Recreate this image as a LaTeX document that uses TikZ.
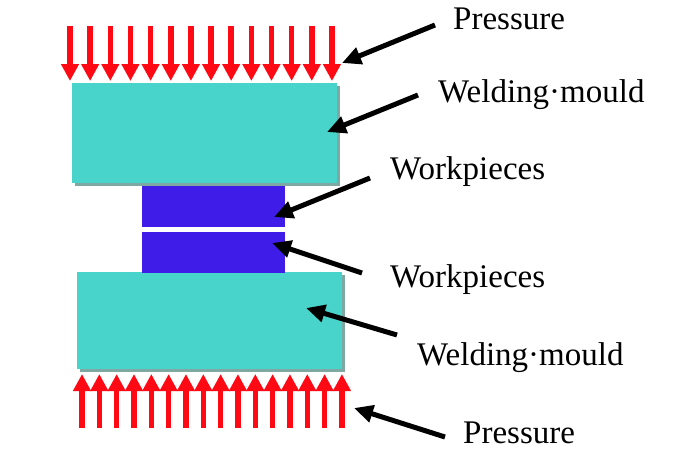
\documentclass[tikz,border=0pt]{standalone}
\usepackage{fontspec}
\setmainfont{Liberation Serif}
\usetikzlibrary{arrows.meta,shadows}
\definecolor{mould}{RGB}{72,212,202}
\definecolor{work}{RGB}{64,28,232}
\definecolor{shadowc}{RGB}{128,168,162}
\definecolor{pred}{RGB}{255,10,20}
\begin{document}
\begin{tikzpicture}[x=1pt,y=-1pt,
  mouldbox/.style={fill=mould, inner sep=0pt, minimum width=265pt,
    general shadow={fill=shadowc, shadow xshift=3pt, shadow yshift=-3pt}},
  workbox/.style={fill=work, inner sep=0pt, minimum width=143pt, minimum height=41pt},
  lbl/.style={font=\fontsize{33}{36}\selectfont, inner sep=0pt, anchor=base west},
  pressarrow/.style={draw=pred, line width=5.5pt, -{Triangle[length=17pt,width=17pt]}},
  callout/.style={draw=black, line width=5pt, -{Triangle[length=19pt,width=17pt]}}]
\useasboundingbox (0,0) rectangle (685,466);

% moulds and workpieces
\node[mouldbox, minimum height=100pt] (topmould) at (204.5,133) {};
\node[mouldbox, minimum height=97pt] (botmould) at (209.5,320.5) {};
\node[workbox] (work1) at (213.5,206.5) {};
\node[workbox] (work2) at (213.5,252) {};

% pressure arrows
\foreach \i in {0,...,13} {
  \draw[pressarrow] ({70+\i*20.15},26) -- ({70+\i*20.15},81);
}
\foreach \i in {0,...,15} {
  \draw[pressarrow] ({82+\i*17.33},428) -- ({82+\i*17.33},374);
}

% labels
\node[lbl] (ptop) at (453,29) {Pressure};
\node[lbl] (mtop) at (438,102) {Welding\textperiodcentered mould};
\node[lbl] (wtop) at (390,179) {Workpieces};
\node[lbl] (wbot) at (390,287) {Workpieces};
\node[lbl] (mbot) at (417,365) {Welding\textperiodcentered mould};
\node[lbl] (pbot) at (463,443) {Pressure};

% callout ends
\coordinate (c1s) at (435,25);  \coordinate (c1e) at (342,63);
\coordinate (c2s) at (418,95);  \coordinate (c2e) at (327,132);
\coordinate (c3s) at (370,178); \coordinate (c3e) at (274,217);
\coordinate (c4s) at (362,273); \coordinate (c4e) at (272,243);
\coordinate (c5s) at (397,335); \coordinate (c5e) at (306,308);
\coordinate (c6s) at (445,437); \coordinate (c6e) at (354,408);

\draw[callout] (c1s) -- (c1e);
\draw[callout] (c2s) -- (c2e);
\draw[callout] (c3s) -- (c3e);
\draw[callout] (c4s) -- (c4e);
\draw[callout] (c5s) -- (c5e);
\draw[callout] (c6s) -- (c6e);
\end{tikzpicture}
\end{document}
